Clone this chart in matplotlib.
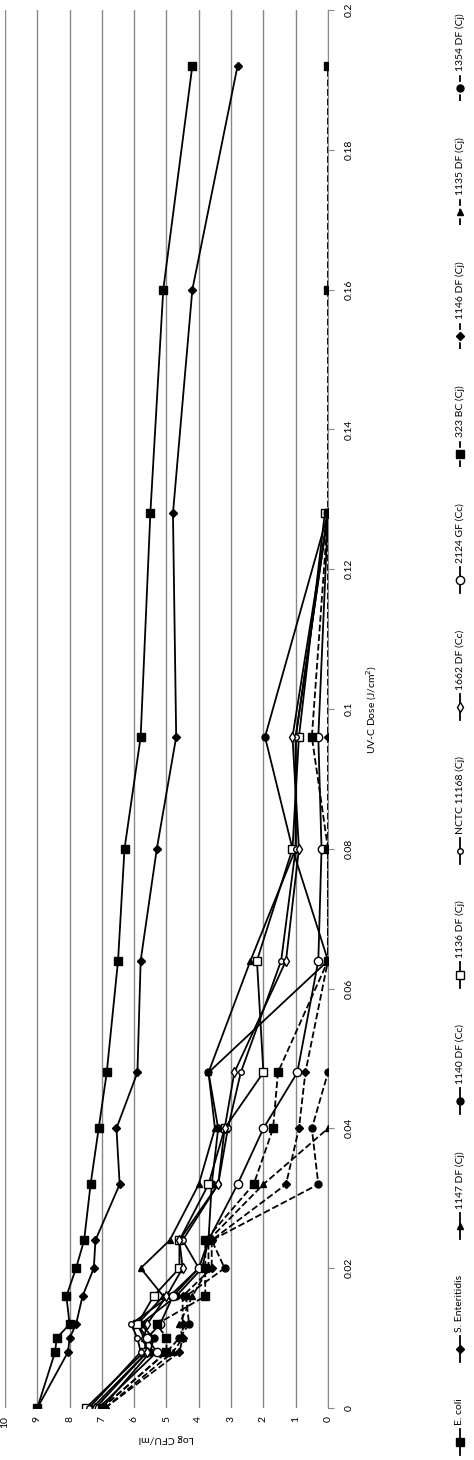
import matplotlib
matplotlib.use("Agg")
import matplotlib.pyplot as plt
from matplotlib.lines import Line2D

plt.rcParams['font.family'] = ['Lato', 'DejaVu Sans']

dose_top = [0, 0.008, 0.01, 0.012, 0.016, 0.02, 0.024, 0.032, 0.04, 0.048, 0.064, 0.08, 0.096, 0.128, 0.16, 0.192]
ecoli = [9.0, 8.45, 8.4, 8.0, 8.1, 7.8, 7.55, 7.35, 7.1, 6.85, 6.5, 6.3, 5.8, 5.5, 5.1, 4.2]
sent = [9.0, 8.05, 8.0, 7.8, 7.6, 7.25, 7.2, 6.45, 6.55, 5.9, 5.8, 5.3, 4.7, 4.8, 4.2, 2.8]

dose_low = [0, 0.008, 0.01, 0.012, 0.016, 0.02, 0.024, 0.032, 0.04, 0.048, 0.064, 0.08, 0.096, 0.128]
s1147 = [7.3, 5.6, 5.7, 5.9, 5.1, 5.8, 4.9, 4.0, 3.5, 3.7, 2.4, 1.0, 1.0, 0.0]
s1140 = [7.0, 5.5, 5.4, 5.8, 4.7, 3.9, 3.7, 3.6, 3.4, 3.7, 0.0, 1.1, 1.95, 0.0]
s1136 = [7.5, 5.7, 5.6, 5.9, 5.4, 4.6, 4.6, 3.7, 3.2, 2.0, 2.2, 1.1, 0.9, 0.1]
s11168 = [7.4, 5.8, 5.9, 6.1, 4.9, 4.0, 4.5, 3.4, 3.1, 2.7, 1.45, 1.0, 1.0, 0.0]
s1662 = [7.2, 5.6, 5.7, 5.6, 5.0, 4.5, 4.6, 3.4, 3.2, 2.9, 1.3, 0.9, 1.1, 0.0]
s2124 = [7.1, 5.3, 5.6, 5.2, 4.8, 4.0, 3.7, 2.8, 2.0, 0.95, 0.3, 0.2, 0.3, 0.0]
dose_323 = [0, 0.008, 0.01, 0.012, 0.016, 0.02, 0.024, 0.032, 0.04, 0.048, 0.064, 0.08, 0.096, 0.128, 0.16, 0.192]
s323 = [7.0, 5.0, 5.0, 5.3, 3.8, 3.8, 3.8, 2.3, 1.7, 1.55, 0.0, 0.0, 0.5, 0.0, 0.0, 0.0]
s1146 = [6.9, 4.6, 4.5, 4.5, 4.5, 3.6, 3.6, 1.3, 0.9, 0.7, 0.0, 0.0, 0.0, 0.0]
dose_1135 = [0, 0.008, 0.01, 0.012, 0.016, 0.02, 0.024, 0.032, 0.04]
s1135 = [6.9, 4.8, 4.5, 4.6, 4.2, 3.7, 3.7, 2.0, 0.0]
dose_1354 = [0, 0.008, 0.01, 0.012, 0.016, 0.02, 0.024, 0.032, 0.04, 0.048]
s1354 = [7.0, 5.0, 4.6, 4.3, 4.4, 3.2, 3.6, 0.3, 0.5, 0.0]

series = [
    ("E. coli", dose_top, ecoli, 's', 'k', '-', 6),
    ("S. Enteritidis", dose_top, sent, 'D', 'k', '-', 4),
    ("1147 DF (Cj)", dose_low, s1147, '^', 'k', '-', 5),
    ("1140 DF (Cc)", dose_low, s1140, 'o', 'k', '-', 5),
    ("1136 DF (Cj)", dose_low, s1136, 's', 'w', '-', 6),
    ("NCTC 11168 (Cj)", dose_low, s11168, 'o', 'w', '-', 4),
    ("1662 DF (Cc)", dose_low, s1662, 'd', 'w', '-', 5),
    ("2124 GF (Cc)", dose_low, s2124, 'o', 'w', '-', 6),
    ("323 BC (Cj)", dose_323, s323, 's', 'k', '--', 6),
    ("1146 DF (Cj)", dose_low, s1146, 'D', 'k', '--', 4),
    ("1135 DF (Cj)", dose_1135, s1135, '^', 'k', '--', 5),
    ("1354 DF (Cj)", dose_1354, s1354, 'o', 'k', '--', 5),
]

W, H = 474, 1460
fig = plt.figure(figsize=(W/100, H/100), dpi=100)
ax = fig.add_axes([5/W, 52/H, 323/W, 1398/H])
for v in range(0, 11):
    ax.axvline(v, color='#888888', lw=1.0, zorder=0)
for name, d, v, m, fc, ls, ms in series:
    ax.plot(v, d, ls=ls, color='k', lw=1.3, marker=m, mfc=fc, mec='k', ms=ms, zorder=3)
ax.set_xlim(10, 0)
ax.set_ylim(0, 0.2)
for s in ['left', 'top', 'bottom']:
    ax.spines[s].set_visible(False)
ax.spines['right'].set_color('#888888')
ax.yaxis.tick_right()
ax.set_yticks([0, 0.02, 0.04, 0.06, 0.08, 0.1, 0.12, 0.14, 0.16, 0.18, 0.2])
ax.set_yticklabels(['0', '0.02', '0.04', '0.06', '0.08', '0.1', '0.12', '0.14', '0.16', '0.18', '0.2'],
                   rotation=90, va='center', fontsize=7.5)
ax.set_xticks(range(0, 11))
ax.set_xticklabels([str(i) for i in range(0, 11)], rotation=90, fontsize=7.5)
ax.tick_params(axis='x', length=0, pad=6)
ax.tick_params(axis='y', length=4, color='#888888', pad=8)
ax.set_xlabel('Log CFU/ml', rotation=180, fontsize=7.5, labelpad=4)
ax.yaxis.set_label_position('right')
ax.set_ylabel('UV-C Dose (J/cm$^2$)', rotation=90, fontsize=7.5, labelpad=8)

# manual vertical legend
fig.canvas.draw()
r = fig.canvas.get_renderer()
xl = 460 / W
seg = 26
texts = []
widths = []
for name, *_ in series:
    t = fig.text(0, 0, name, rotation=90, fontsize=7.5, va='bottom', ha='center')
    bb = t.get_window_extent(r)
    widths.append(bb.height)
    texts.append(t)
total = sum(widths) + len(series) * (seg + 4)
gap = (1450 - 8 - total) / (len(series) - 1)
y = 1455
for (name, d, v, m, fc, ls, ms), t, w in zip(series, texts, widths):
    y0 = H - y
    fig.add_artist(Line2D([xl, xl], [y0/H, (y0+seg)/H], ls=ls, color='k', lw=1.3,
                          marker=None, transform=fig.transFigure))
    fig.add_artist(Line2D([xl], [(y0+seg/2)/H], marker=m, mfc=fc, mec='k', ms=ms,
                          transform=fig.transFigure))
    t.set_position((xl, (y0 + seg + 4)/H))
    y -= seg + 4 + w + gap

fig.savefig('out.png', dpi=100)
